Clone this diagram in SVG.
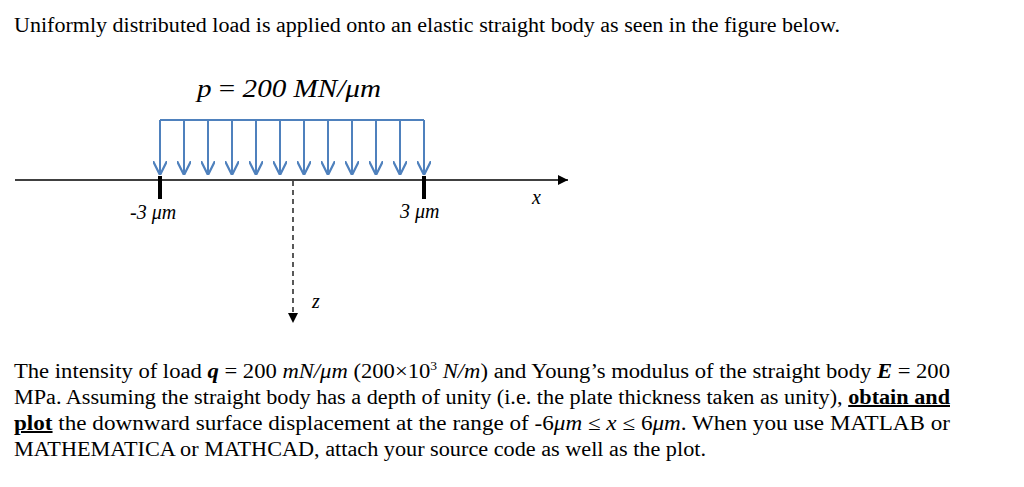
<svg xmlns="http://www.w3.org/2000/svg" width="1024" height="487" viewBox="0 0 1024 487">
<defs>
<style>
.t{font-family:"Liberation Serif",serif;font-size:20px;fill:#000}
.i{font-style:italic}
.ld{stroke:#4f81bd;stroke-width:2;fill:none}
</style>
<marker id="ah" viewBox="0 0 10 10" refX="10" refY="5" markerWidth="10" markerHeight="10" markerUnits="userSpaceOnUse" orient="auto"><path d="M0,0 L10,5 L0,10 z" fill="#000"/></marker>
<marker id="bh" viewBox="0 0 10 10" refX="10" refY="5" markerWidth="14" markerHeight="14" markerUnits="userSpaceOnUse" orient="auto"><path d="M0,0 L10,5 L0,10" fill="none" stroke="#4f81bd" stroke-width="1.6"/></marker>
</defs>
<rect width="1024" height="487" fill="#fff"/>
<text class="t" x="14" y="32" textLength="826" lengthAdjust="spacingAndGlyphs">Uniformly distributed load is applied onto an elastic straight body as seen in the figure below.</text>
<text class="t" x="197" y="97" style="font-size:26px" textLength="184" lengthAdjust="spacingAndGlyphs"><tspan class="i">p</tspan> = <tspan class="i">200 MN/μm</tspan></text>
<g id="load">
<path class="ld" d="M160,120 H424"/>
<g class="ld" marker-end="url(#bh)">
<path d="M160,120 V175"/><path d="M184,120 V175"/><path d="M208,120 V175"/><path d="M232,120 V175"/><path d="M256,120 V175"/><path d="M280,120 V175"/><path d="M304,120 V175"/><path d="M328,120 V175"/><path d="M352,120 V175"/><path d="M376,120 V175"/><path d="M400,120 V175"/><path d="M424,120 V175"/>
</g>
</g>
<g id="connectors">
<path d="M15,180 H568" stroke="#000" stroke-width="1.5" marker-end="url(#ah)"/>
<path d="M293,181 V323" stroke="#000" stroke-width="1.3" stroke-dasharray="5,4" marker-end="url(#ah)"/>
<path d="M160,176 V199 M424,176 V199" stroke="#000" stroke-width="4"/>
</g>
<text class="t i" x="130" y="219">-3 μm</text>
<text class="t i" x="400" y="218">3 μm</text>
<text class="t i" x="532" y="204">x</text>
<text class="t i" x="312" y="308">z</text>
<g class="t">
<text x="14" y="378" textLength="936" lengthAdjust="spacingAndGlyphs">The intensity of load <tspan class="i" font-weight="bold">q</tspan> = 200 <tspan class="i">mN/μm</tspan> (200×10<tspan dy="-8" font-size="12">3</tspan><tspan dy="8" class="i"> N/m</tspan>) and Young’s modulus of the straight body <tspan class="i" font-weight="bold">E</tspan> = 200</text>
<text x="14" y="404" textLength="936" lengthAdjust="spacingAndGlyphs">MPa.  Assuming the straight body has a depth of unity (i.e. the plate thickness taken as unity), <tspan font-weight="bold" text-decoration="underline">obtain and</tspan></text>
<text x="14" y="430" textLength="936" lengthAdjust="spacingAndGlyphs"><tspan font-weight="bold" text-decoration="underline">plot</tspan> the downward surface displacement at the range of -6<tspan class="i">μm</tspan>  ≤ <tspan class="i">x</tspan> ≤ 6<tspan class="i">μm</tspan>.  When you use MATLAB or</text>
<text x="14" y="456" textLength="692" lengthAdjust="spacingAndGlyphs">MATHEMATICA or MATHCAD, attach your source code as well as the plot.</text>
</g>
</svg>
